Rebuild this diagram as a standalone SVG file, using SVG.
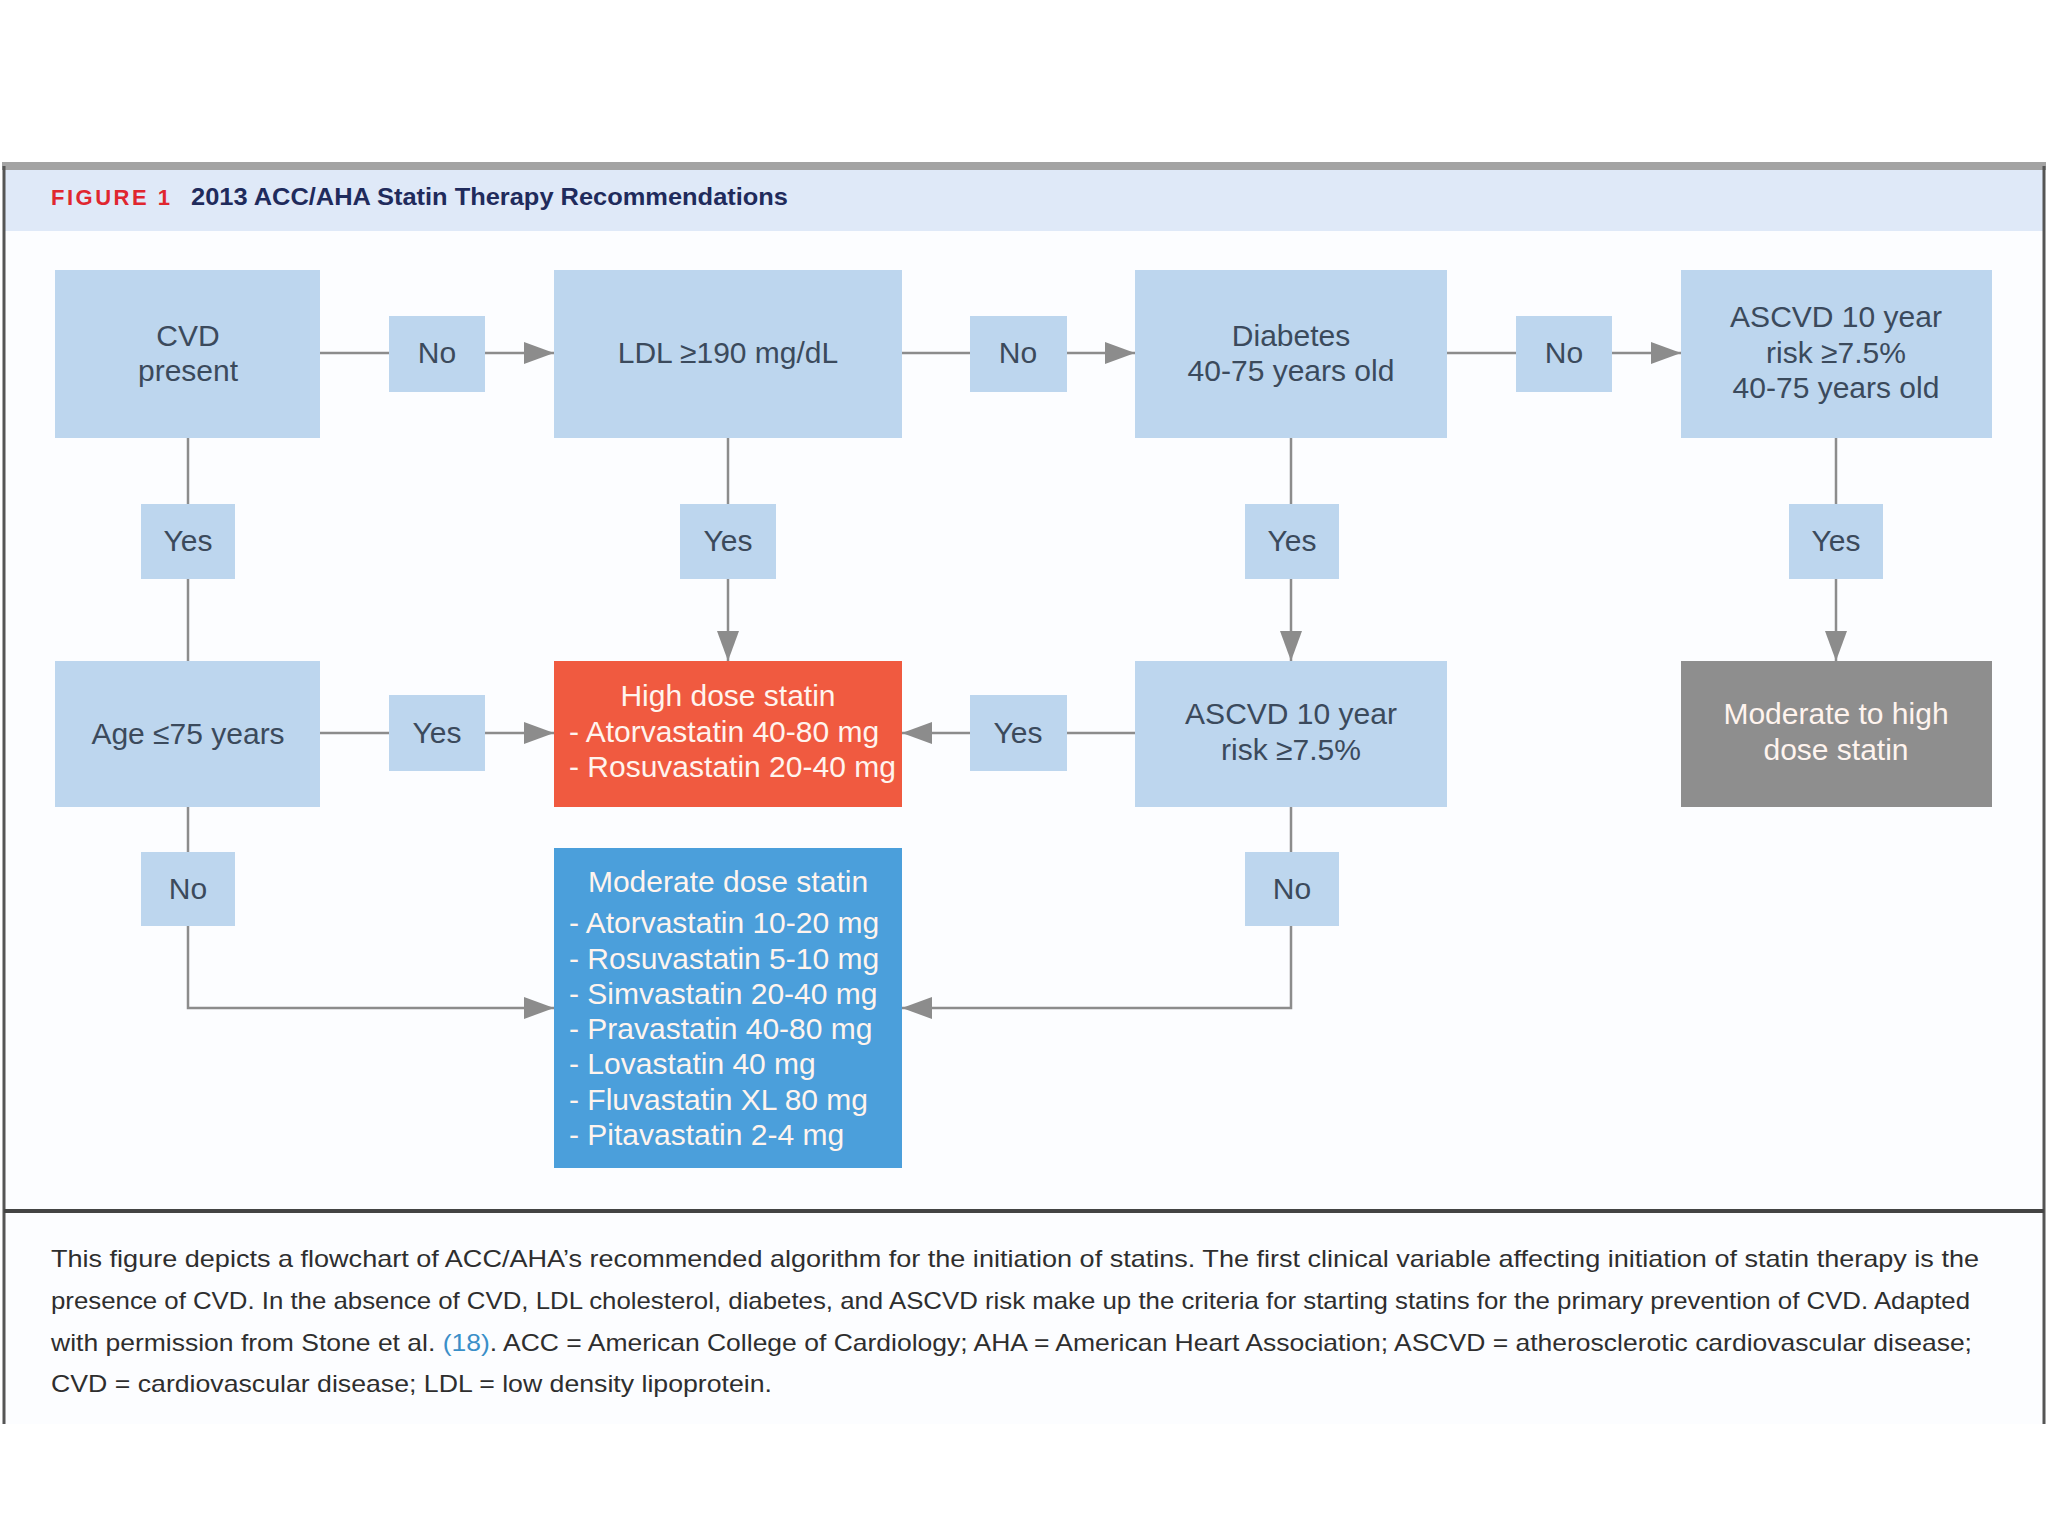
<svg xmlns="http://www.w3.org/2000/svg" width="2048" height="1536" viewBox="0 0 2048 1536">
<defs>
<style>
.n{fill:#bdd6ee}
.lb{fill:#bdd6ee}
.t{font-family:"Liberation Sans",Arial,sans-serif;font-size:30px;fill:#3b4a5c;text-anchor:middle}
.w{font-family:"Liberation Sans",Arial,sans-serif;font-size:30px;fill:#fff4ee}
.wc{text-anchor:middle}
.c{fill:none;stroke:#8c8c8c;stroke-width:2.5}
.cap{font-family:"Liberation Sans",Arial,sans-serif;font-size:24px;fill:#2e2e2e}
</style>
<marker id="ah" viewBox="0 0 10 10" refX="10" refY="5" markerWidth="11" markerHeight="8" markerUnits="userSpaceOnUse" orient="auto" preserveAspectRatio="none">
<path d="M0,0 L10,5 L0,10 Z" fill="#8c8c8c"/>
</marker>
<marker id="a" viewBox="0 0 10 10" refX="10" refY="5" markerWidth="30" markerHeight="22" markerUnits="userSpaceOnUse" orient="auto" preserveAspectRatio="none">
<path d="M0,0 L10,5 L0,10 Z" fill="#8c8c8c"/>
</marker>
</defs>
<rect x="0" y="0" width="2048" height="1536" fill="#ffffff"/>
<g id="panel">
<rect x="4" y="168" width="2040" height="1256" fill="#fcfdff"/>
<rect x="4" y="170" width="2040" height="61" fill="#dfe9f8"/>
<rect x="2" y="162" width="2044" height="8" fill="#a3a3a3"/>
<line x1="4" y1="166" x2="4" y2="1424" stroke="#555" stroke-width="3"/>
<line x1="2044" y1="166" x2="2044" y2="1424" stroke="#555" stroke-width="3"/>
<line x1="4" y1="1211" x2="2044" y2="1211" stroke="#444" stroke-width="4"/>
<text x="51" y="205" font-family="'Liberation Sans',Arial,sans-serif" font-size="22" font-weight="bold" fill="#e0262f" letter-spacing="2.5">FIGURE 1</text>
<text x="191" y="205" font-family="'Liberation Sans',Arial,sans-serif" font-size="24" font-weight="bold" fill="#1f2b5c" textLength="597" lengthAdjust="spacingAndGlyphs">2013 ACC/AHA Statin Therapy Recommendations</text>
</g>
<g id="connectors">
<path class="c" d="M320,353 H554" marker-end="url(#a)"/>
<path class="c" d="M902,353 H1135" marker-end="url(#a)"/>
<path class="c" d="M1447,353 H1681" marker-end="url(#a)"/>
<path class="c" d="M188,438 V661"/>
<path class="c" d="M728,438 V661" marker-end="url(#a)"/>
<path class="c" d="M1291,438 V661" marker-end="url(#a)"/>
<path class="c" d="M1836,438 V661" marker-end="url(#a)"/>
<path class="c" d="M320,733 H554" marker-end="url(#a)"/>
<path class="c" d="M1135,733 H902" marker-end="url(#a)"/>
<path class="c" d="M188,807 V1008 H554" marker-end="url(#a)"/>
<path class="c" d="M1291,807 V1008 H902" marker-end="url(#a)"/>
</g>
<g id="n-cvd"><rect class="n" x="55" y="270" width="265" height="168"/><text class="t" x="188" y="346">CVD</text><text class="t" x="188" y="381">present</text></g>
<g id="n-ldl"><rect class="n" x="554" y="270" width="348" height="168"/><text class="t" x="728" y="363">LDL ≥190 mg/dL</text></g>
<g id="n-diab"><rect class="n" x="1135" y="270" width="312" height="168"/><text class="t" x="1291" y="346">Diabetes</text><text class="t" x="1291" y="381">40-75 years old</text></g>
<g id="n-ascvd1"><rect class="n" x="1681" y="270" width="311" height="168"/><text class="t" x="1836" y="327">ASCVD 10 year</text><text class="t" x="1836" y="363">risk ≥7.5%</text><text class="t" x="1836" y="398">40-75 years old</text></g>
<g id="n-age"><rect class="n" x="55" y="661" width="265" height="146"/><text class="t" x="188" y="744">Age ≤75 years</text></g>
<g id="n-high"><rect x="554" y="661" width="348" height="146" fill="#f05a40"/><text class="w wc" x="728" y="706">High dose statin</text><text class="w" x="569" y="742">- Atorvastatin 40-80 mg</text><text class="w" x="569" y="777">- Rosuvastatin 20-40 mg</text></g>
<g id="n-ascvd2"><rect class="n" x="1135" y="661" width="312" height="146"/><text class="t" x="1291" y="724">ASCVD 10 year</text><text class="t" x="1291" y="760">risk ≥7.5%</text></g>
<g id="n-modhigh"><rect x="1681" y="661" width="311" height="146" fill="#8e8e8e"/><text class="w wc" x="1836" y="724">Moderate to high</text><text class="w wc" x="1836" y="760">dose statin</text></g>
<g id="n-mod"><rect x="554" y="848" width="348" height="320" fill="#4b9fdb"/><text class="w wc" x="728" y="892">Moderate dose statin</text><text class="w" x="569" y="933">- Atorvastatin 10-20 mg</text><text class="w" x="569" y="969">- Rosuvastatin 5-10 mg</text><text class="w" x="569" y="1004">- Simvastatin 20-40 mg</text><text class="w" x="569" y="1039">- Pravastatin 40-80 mg</text><text class="w" x="569" y="1074">- Lovastatin 40 mg</text><text class="w" x="569" y="1110">- Fluvastatin XL 80 mg</text><text class="w" x="569" y="1145">- Pitavastatin 2-4 mg</text></g>
<g id="l-no1"><rect class="lb" x="389" y="316" width="96" height="76"/><text class="t" x="437" y="363">No</text></g>
<g id="l-no2"><rect class="lb" x="970" y="316" width="97" height="76"/><text class="t" x="1018" y="363">No</text></g>
<g id="l-no3"><rect class="lb" x="1516" y="316" width="96" height="76"/><text class="t" x="1564" y="363">No</text></g>
<g id="l-yes1"><rect class="lb" x="141" y="504" width="94" height="75"/><text class="t" x="188" y="551">Yes</text></g>
<g id="l-yes2"><rect class="lb" x="680" y="504" width="96" height="75"/><text class="t" x="728" y="551">Yes</text></g>
<g id="l-yes3"><rect class="lb" x="1245" y="504" width="94" height="75"/><text class="t" x="1292" y="551">Yes</text></g>
<g id="l-yes4"><rect class="lb" x="1789" y="504" width="94" height="75"/><text class="t" x="1836" y="551">Yes</text></g>
<g id="l-yes5"><rect class="lb" x="389" y="695" width="96" height="76"/><text class="t" x="437" y="743">Yes</text></g>
<g id="l-yes6"><rect class="lb" x="970" y="695" width="97" height="76"/><text class="t" x="1018" y="743">Yes</text></g>
<g id="l-no4"><rect class="lb" x="141" y="852" width="94" height="74"/><text class="t" x="188" y="899">No</text></g>
<g id="l-no5"><rect class="lb" x="1245" y="852" width="94" height="74"/><text class="t" x="1292" y="899">No</text></g>
<g id="caption">
<text class="cap" x="51" y="1267" textLength="1928" lengthAdjust="spacingAndGlyphs">This figure depicts a flowchart of ACC/AHA’s recommended algorithm for the initiation of statins. The first clinical variable affecting initiation of statin therapy is the</text>
<text class="cap" x="51" y="1309" textLength="1919" lengthAdjust="spacingAndGlyphs">presence of CVD. In the absence of CVD, LDL cholesterol, diabetes, and ASCVD risk make up the criteria for starting statins for the primary prevention of CVD. Adapted</text>
<text class="cap" x="51" y="1351" textLength="1921" lengthAdjust="spacingAndGlyphs">with permission from Stone et al. <tspan fill="#3a8fc8">(18)</tspan>. ACC = American College of Cardiology; AHA = American Heart Association; ASCVD = atherosclerotic cardiovascular disease;</text>
<text class="cap" x="51" y="1392" textLength="721" lengthAdjust="spacingAndGlyphs">CVD = cardiovascular disease; LDL = low density lipoprotein.</text>
</g>
</svg>
